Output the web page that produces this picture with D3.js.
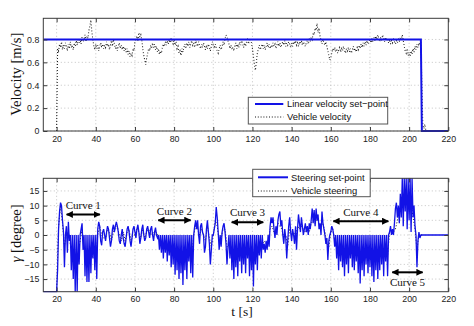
<!DOCTYPE html>
<html><head><meta charset="utf-8">
<script src="https://cdn.jsdelivr.net/npm/d3@7"></script>
<style>body{margin:0;background:#fff;} svg{display:block;}</style>
</head><body><svg id="c" width="474" height="326"></svg>
<script>
// ---------- data ----------
const xTicks = [20, 40, 60, 80, 100, 120, 140, 160, 180, 200, 220];
const velTicks = [0, 0.2, 0.4, 0.6, 0.8];
const steerTicks = [-15, -10, -5, 0, 5, 10, 15];

// linear velocity set-point
const setpointT = [13.2, 206, 206.5, 220];
const setpointV = [0.8, 0.8, 0, 0];

// vehicle velocity, sampled every 0.5 s from t = 20
const velStart = 20, velStep = 0.5;
const vehicleVelocity = [
 0, 0.72, 0.70, 0.76, 0.73, 0.78, 0.71, 0.75, 0.72, 0.77,
 0.74, 0.70, 0.76, 0.72, 0.78, 0.73, 0.75, 0.71, 0.77, 0.74,
 0.79, 0.75, 0.81, 0.77, 0.80, 0.76, 0.82, 0.78, 0.80, 0.84,
 0.78, 0.83, 0.81, 0.88, 0.92, 0.97, 0.87, 0.80, 0.74, 0.71,
 0.76, 0.72, 0.75, 0.70, 0.74, 0.77, 0.73, 0.76, 0.72, 0.75,
 0.73, 0.78, 0.74, 0.76, 0.71, 0.75, 0.79, 0.74, 0.80, 0.76,
 0.72, 0.75, 0.70, 0.74, 0.77, 0.72, 0.75, 0.71, 0.74, 0.70,
 0.73, 0.69, 0.72, 0.67, 0.70, 0.65, 0.68, 0.66, 0.72, 0.70,
 0.78, 0.80, 0.83, 0.79, 0.86, 0.82, 0.84, 0.79, 0.72, 0.66,
 0.62, 0.58, 0.64, 0.68, 0.72, 0.70, 0.75, 0.72, 0.77, 0.73,
 0.76, 0.71, 0.74, 0.69, 0.72, 0.67, 0.70, 0.68, 0.73, 0.76,
 0.74, 0.78, 0.75, 0.79, 0.76, 0.80, 0.77, 0.81, 0.78, 0.76,
 0.80, 0.75, 0.78, 0.72, 0.74, 0.68, 0.70, 0.66, 0.72, 0.69,
 0.73, 0.76, 0.72, 0.77, 0.74, 0.78, 0.73, 0.76, 0.79, 0.75,
 0.77, 0.73, 0.80, 0.76, 0.74, 0.78, 0.75, 0.72, 0.76, 0.73,
 0.77, 0.74, 0.71, 0.75, 0.72, 0.76, 0.73, 0.70, 0.74, 0.78,
 0.75, 0.72, 0.76, 0.73, 0.70, 0.68, 0.72, 0.75, 0.71, 0.74,
 0.78, 0.75, 0.81, 0.84, 0.82, 0.79, 0.76, 0.72, 0.75, 0.71,
 0.73, 0.70, 0.74, 0.77, 0.72, 0.76, 0.73, 0.78, 0.75, 0.79,
 0.76, 0.73, 0.77, 0.74, 0.78, 0.80, 0.76, 0.79, 0.81, 0.77,
 0.72, 0.65, 0.58, 0.53, 0.60, 0.68, 0.72, 0.75, 0.71, 0.74,
 0.76, 0.72, 0.75, 0.71, 0.74, 0.77, 0.73, 0.76, 0.72, 0.75,
 0.73, 0.77, 0.74, 0.76, 0.72, 0.75, 0.78, 0.74, 0.77, 0.73,
 0.76, 0.78, 0.75, 0.79, 0.74, 0.77, 0.75, 0.78, 0.76, 0.73,
 0.77, 0.74, 0.78, 0.76, 0.79, 0.75, 0.77, 0.74, 0.78, 0.76,
 0.79, 0.75, 0.78, 0.76, 0.74, 0.77, 0.79, 0.76, 0.80, 0.78,
 0.82, 0.80, 0.86, 0.84, 0.90, 0.88, 0.94, 0.86, 0.90, 0.83,
 0.79, 0.76, 0.80, 0.77, 0.75, 0.78, 0.74, 0.70, 0.66, 0.62,
 0.64, 0.68, 0.72, 0.70, 0.73, 0.69, 0.72, 0.68, 0.71, 0.73,
 0.69, 0.72, 0.70, 0.74, 0.71, 0.68, 0.72, 0.70, 0.73, 0.69,
 0.72, 0.68, 0.71, 0.74, 0.70, 0.72, 0.69, 0.73, 0.71, 0.75,
 0.72, 0.76, 0.73, 0.77, 0.74, 0.78, 0.75, 0.79, 0.76, 0.78,
 0.80, 0.77, 0.81, 0.78, 0.82, 0.79, 0.83, 0.80, 0.84, 0.81,
 0.78, 0.82, 0.80, 0.84, 0.81, 0.78, 0.82, 0.79, 0.81, 0.77,
 0.80, 0.76, 0.79, 0.77, 0.80, 0.78, 0.76, 0.79, 0.77, 0.80,
 0.78, 0.82, 0.80, 0.84, 0.79, 0.74, 0.70, 0.68, 0.72, 0.66,
 0.69, 0.65, 0.70, 0.67, 0.72, 0.69, 0.74, 0.71, 0.76, 0.73,
 0.77, 0.75, 0.78, 0.40, 0.05, 0.02, 0.06, 0.01, 0.00, 0.00
];

// steering set-point, sampled every 0.5 s from t = 20
const steerStart = 20, steerStep = 0.5;
const steerLeadT = [13.2], steerLeadV = [-19.3];
const steerTailT = [220], steerTailV = [0];
const steeringSetpoint = [
 -19.3, -12, 2, 8, 11, 10, 5, 1, -11, 0,
 3, -6, 4.5, -2, 0, -12, 0, -15, 0, -19.3,
 0, -19.3, 0, -10, 0, 2, 4, -5, 0, -14,
 0, -16, 0, -16, 0, -13, 0, -8, 0, -12,
 0, -15, 2, 4.5, 3, -2, -3.5, 1, 2, 0,
 -2, 1, 3, 2, -1, -4, -2, 2, 3.5, 1,
 3, 4.5, 3, 1, -2, -3, 0, 2, -1, -3,
 -4, -1, 2, 3, 1, -2, -4, -1, 2, 3,
 1, -1, 2, 3.5, 1, -3, -1, 2, 3.5, 0,
 -2, -1, 2, 3, 1, -1, 2, 3, 0, -2,
 1, 2.5, 0, -1, 0, -5, 0, -6, 0, -8,
 0, -6, 0, -9, 0, -7, 0, -11, 0, -10,
 0, -13.5, 0, -12, 0, -15, 0, -13, 0, -17,
 0, -12, 0, -15, 0, -9, 0, -13, 0, -14.5,
 0, 3, 5, 2, 5, 0, -3, 3, 4, 1,
 0, -6, -4, 2, 5, 1, -3, -10, -5, 0,
 0, 2, 4, 9.5, 6, 1, -5, 0, -4, 1,
 3, 4, 1, -3, -10, -4, 0, -8, 0, -12,
 0, -15, 0, -11, 0, -14, 0, -9, 0, -13,
 0, -10, 0, -13, 0, -8, 0, -14, 0, -12,
 0, -17.5, 0, -10, 0, -12, 0, -7, 0, -8,
 0, -5, -3, -6, -2, -5, 0, -4, 3, 6,
 4, 6, 2, -1, 3, 0, 5, 7, 8, 3,
 5, 0, -3, 2, -1, -8, -2, 3, 6, 1,
 -2, 2, 0, -3, 3, -5, 2, 7, 4, 1,
 6, 3, 0, 2, 4, 1, 3, 0, 4, 2,
 5, 9, 4, 8.5, 3, 9, 5, 7, 2, 4,
 0, 8, 4, 2, 0, -3, -1, -8.5, -2, 0,
 1, 3, 2, 0, -4, 0, -8, 0, -12, 0,
 -9, 0, -11, 0, -14, 0, -10, 0, -13, 0,
 -8, 0, -11, 0, -12, 0, -9, 0, -13, 0,
 -16.5, 0, -12, 0, -14, 0, -10, 0, -13, 0,
 -11, 0, -14, 0, -16, 0, -12, 0, -15, 0,
 -12, 0, -10, 0, -14, 0, -9, 0, -14, 0,
 1, 3, 0, 2, 0, 4, 9, 11, 6, 10,
 4, 14, 6, 19.3, 3, 19.3, 8, 19.3, 2, 19.3,
 5, 19.3, 1, 19.3, 6, 10, 3, 0, -11, -2,
 1, -1, 0, 0, 0
];

// vehicle steering, sampled every 1 s from t = 20
const vStart = 20, vStep = 1;
const vehicleSteering = [
 -19, 3, 10, 4, -4, 0, 1, -3, -6, -8,
 -10, -6, -2, 2, -5, -9, -10, -9, -7, -8,
 -9, 0, 3, 0, -1, -1, 2, 1, -2, 1,
 2, 3, 0, -2, 1, -2, 1, 2, -2, 0,
 0, 2, 1, -1, 2, -1, 1, 2, 0, 1,
 0, 1, -1, -3, -4, -3, -4, -5, -6, -5,
 -6, -7, -8, -7, -9, -8, -7, -6, -7, -8,
 0, 3, 2, 0, 2, 0, -2, 3, -1, -4,
 0, 5, 3, -2, -1, 2, 2, -4, -3, -5,
 -7, -6, -6, -5, -6, -6, -6, -5, -6, -6,
 -8, -6, -6, -4, -4, -3, -2, -3, -2, 2,
 3, 1, 1, 4, 3, 2, -1, 0, -4, 2,
 0, 1, -1, 3, 2, 3, 2, 1, 2, 1,
 4, 5, 4, 5, 4, 3, 4, 1, -3, -4,
 1, 2, -2, -4, -5, -5, -5, -6, -6, -5,
 -4, -5, -5, -5, -6, -8, -6, -7, -5, -6,
 -5, -6, -7, -6, -7, -6, -5, -6, -5, -7,
 1, 1, 1, 2, 5, 8, 9, 10, 11, 11,
 11, 11, 6, 2, -5, 0, 0, 0
];

// curve annotations
const curveLabels = ["Curve 1", "Curve 2", "Curve 3", "Curve 4", "Curve 5"];
const curveStart = [25.1, 71.9, 109.4, 161.3, 191.4];
const curveEnd = [42.1, 88.4, 125.5, 189.4, 206.9];
const curveArrowY = [7.0, 5.05, 4.3, 4.7, -12.7];
const curveTextY = [8.8, 6.9, 6.4, 6.4, -17.4];

// ---------- drawing ----------
const svg = d3.select("#c");
const L = 43.3, R = 448.3;
const top1 = 18.3, bot1 = 131, top2 = 178.3, bot2 = 291.7;
const BLUE = "#1212e6";
const AXC = "#3a3a3a";

const x = d3.scaleLinear().domain([13.2, 220]).range([L, R]);
const yV = d3.scaleLinear().domain([0, 0.985]).range([bot1, top1]);
const yS = d3.scaleLinear().domain([-19.3, 19.3]).range([bot2, top2]);

const defs = svg.append("defs");
defs.append("clipPath").attr("id", "cp1").append("rect")
  .attr("x", L).attr("y", top1 - 1).attr("width", R - L).attr("height", bot1 - top1 + 2);
defs.append("clipPath").attr("id", "cp2").append("rect")
  .attr("x", L).attr("y", top2 - 1).attr("width", R - L).attr("height", bot2 - top2 + 2);
const mk = defs.append("marker").attr("id", "ah").attr("viewBox", "0 0 10 10")
  .attr("refX", 9).attr("refY", 5).attr("markerWidth", 7).attr("markerHeight", 7)
  .attr("markerUnits", "userSpaceOnUse").attr("orient", "auto-start-reverse");
mk.append("path").attr("d", "M0,0 L10,5 L0,10 Z").attr("fill", "#000");

function panel(y, top, bot, yTicks) {
  const g = svg.append("g");
  g.append("g").selectAll("line").data(xTicks.filter(t => t < 220)).join("line")
    .attr("x1", d => x(d)).attr("x2", d => x(d)).attr("y1", top).attr("y2", bot)
    .attr("stroke", "#b5b5b5").attr("stroke-width", 0.8).attr("stroke-dasharray", "1,2.5");
  g.append("g").selectAll("line").data(yTicks).join("line")
    .attr("x1", L).attr("x2", R).attr("y1", d => y(d)).attr("y2", d => y(d))
    .attr("stroke", "#b5b5b5").attr("stroke-width", 0.8).attr("stroke-dasharray", "1,2.5");
  return g;
}
function axes(y, top, bot, yTicks, fmt) {
  const g = svg.append("g");
  const style = sel => {
    sel.select(".domain").remove();
    sel.selectAll(".tick line").attr("stroke", AXC);
    sel.selectAll("text").attr("font-family", "'Liberation Sans', Arial, sans-serif")
      .attr("font-size", "8.8px").attr("fill", "#222");
  };
  g.append("g").attr("transform", `translate(0,${bot})`)
    .call(d3.axisBottom(x).tickValues(xTicks).tickSizeInner(-4).tickSizeOuter(0).tickPadding(4.5))
    .call(style);
  g.append("g").attr("transform", `translate(0,${top})`)
    .call(d3.axisTop(x).tickValues(xTicks).tickSizeInner(-4).tickSizeOuter(0).tickFormat(""))
    .call(style);
  g.append("g").attr("transform", `translate(${L},0)`)
    .call(d3.axisLeft(y).tickValues(yTicks).tickSizeInner(-4).tickSizeOuter(0).tickPadding(4).tickFormat(fmt))
    .call(style);
  g.append("g").attr("transform", `translate(${R},0)`)
    .call(d3.axisRight(y).tickValues(yTicks).tickSizeInner(-4).tickSizeOuter(0).tickFormat(""))
    .call(style);
  g.append("rect").attr("x", L).attr("y", top).attr("width", R - L).attr("height", bot - top)
    .attr("fill", "none").attr("stroke", AXC).attr("stroke-width", 1);
  return g;
}

// ---- top panel ----
panel(yV, top1, bot1, velTicks);
const d1 = svg.append("g").attr("clip-path", "url(#cp1)");
const velPts = vehicleVelocity.map((v, i) => [velStart + i * velStep, v]);
d1.append("path").datum(velPts)
  .attr("d", d3.line().x(d => x(d[0])).y(d => yV(d[1])))
  .attr("fill", "none").attr("stroke", "#1a1a1a").attr("stroke-width", 1.1)
  .attr("stroke-dasharray", "0.9,2.1");
d1.append("path").datum(setpointT.map((t, i) => [t, setpointV[i]]))
  .attr("d", d3.line().x(d => x(d[0])).y(d => yV(d[1])))
  .attr("fill", "none").attr("stroke", BLUE).attr("stroke-width", 2);
axes(yV, top1, bot1, velTicks, d => d === 0 ? "0" : d3.format(".1f")(d));

// ---- bottom panel ----
panel(yS, top2, bot2, steerTicks);
const d2 = svg.append("g").attr("clip-path", "url(#cp2)");
const vsPts = vehicleSteering.map((v, i) => [vStart + i * vStep, v]);
d2.append("path").datum(vsPts)
  .attr("d", d3.line().x(d => x(d[0])).y(d => yS(d[1])))
  .attr("fill", "none").attr("stroke", "#111").attr("stroke-width", 1)
  .attr("stroke-dasharray", "1,2");
const ssPts = steerLeadT.map((t, i) => [t, steerLeadV[i]])
  .concat(steeringSetpoint.map((v, i) => [steerStart + i * steerStep, v]))
  .concat(steerTailT.map((t, i) => [t, steerTailV[i]]));
d2.append("path").datum(ssPts)
  .attr("d", d3.line().x(d => x(d[0])).y(d => yS(d[1])))
  .attr("fill", "none").attr("stroke", BLUE).attr("stroke-width", 1.3)
  .attr("stroke-linejoin", "miter");
axes(yS, top2, bot2, steerTicks, d3.format("d"));

// annotations
const ann = svg.append("g");
curveLabels.forEach((lab, i) => {
  ann.append("line")
    .attr("x1", x(curveStart[i])).attr("x2", x(curveEnd[i]))
    .attr("y1", yS(curveArrowY[i])).attr("y2", yS(curveArrowY[i]))
    .attr("stroke", "#000").attr("stroke-width", 2)
    .attr("marker-start", "url(#ah)").attr("marker-end", "url(#ah)");
  ann.append("text")
    .attr("x", x((curveStart[i] + curveEnd[i]) / 2)).attr("y", yS(curveTextY[i]))
    .attr("text-anchor", "middle")
    .attr("font-family", "'Liberation Serif', 'Times New Roman', serif")
    .attr("font-size", "11px").attr("fill", "#111").text(lab);
});

// legends
function legend(bx, by, bw, bh, rows) {
  const g = svg.append("g");
  g.append("rect").attr("x", bx).attr("y", by).attr("width", bw).attr("height", bh)
    .attr("fill", "#fff").attr("stroke", "#555").attr("stroke-width", 1);
  rows.forEach(r => {
    g.append("line").attr("x1", r.x1).attr("x2", r.x2).attr("y1", r.y).attr("y2", r.y)
      .attr("stroke", r.color).attr("stroke-width", r.w)
      .attr("stroke-dasharray", r.dash || null);
    g.append("text").attr("x", r.tx).attr("y", r.y + 3.4)
      .attr("font-family", "'Liberation Sans', Arial, sans-serif")
      .attr("font-size", "9.4px").attr("fill", "#111").text(r.label);
  });
}
legend(248.3, 97.3, 139.4, 26.7, [
  {x1: 255, x2: 283.3, y: 104, color: BLUE, w: 2, tx: 287, label: "Linear velocity set\u2212point"},
  {x1: 255, x2: 283.3, y: 117, color: "#111", w: 1, dash: "1,1.8", tx: 287, label: "Vehicle velocity"}
]);
legend(252.7, 169.3, 117.5, 27.4, [
  {x1: 258, x2: 288, y: 177.3, color: BLUE, w: 2, tx: 291, label: "Steering set-point"},
  {x1: 258, x2: 288, y: 191, color: "#111", w: 1, dash: "1,1.8", tx: 291, label: "Vehicle steering"}
]);

// axis titles
const serif = "'Liberation Serif', 'Times New Roman', serif";
svg.append("text").attr("transform", "translate(21,74.3) rotate(-90)")
  .attr("text-anchor", "middle").attr("font-family", serif).attr("font-size", "14.6px")
  .attr("fill", "#111").text("Velocity [m/s]");
const gl = svg.append("text").attr("transform", "translate(20.5,233.3) rotate(-90)")
  .attr("text-anchor", "middle").attr("font-family", serif).attr("font-size", "14.6px")
  .attr("fill", "#111");
gl.append("tspan").attr("font-style", "italic").text("\u03b3");
gl.append("tspan").text(" [degree]");
svg.append("text").attr("x", 242).attr("y", 315.5).attr("text-anchor", "middle")
  .attr("font-family", serif).attr("font-size", "13.5px").attr("fill", "#111").text("t [s]");
</script>
</body></html>
